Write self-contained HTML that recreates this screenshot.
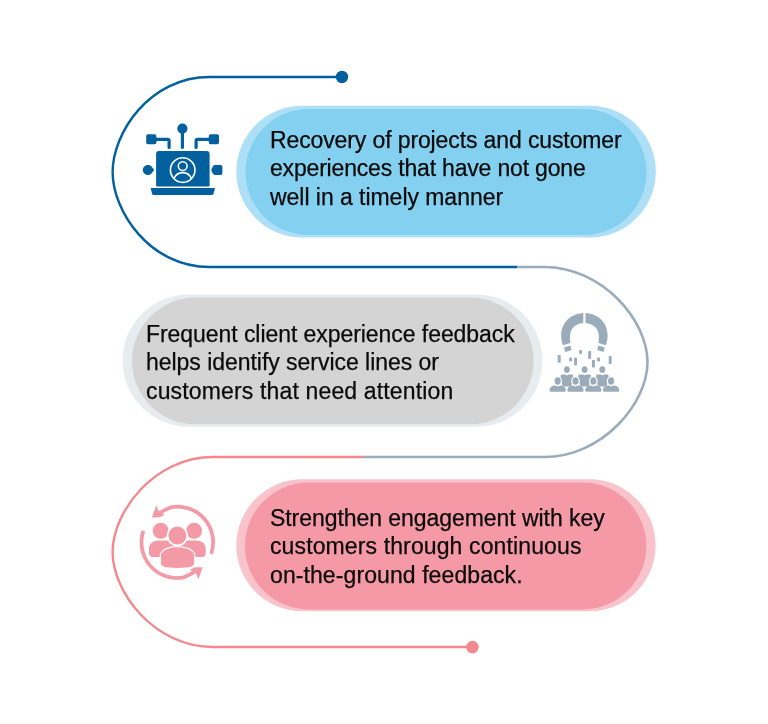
<!DOCTYPE html>
<html lang="en">
<head>
<meta charset="utf-8">
<title>Client experience feedback</title>
<style>
html,body{margin:0;padding:0;background:#fff;}
body{width:768px;height:724px;position:relative;overflow:hidden;font-family:"Liberation Sans",sans-serif;}
#art{position:absolute;left:0;top:0;width:768px;height:724px;display:block;}
.t{position:absolute;will-change:transform;white-space:nowrap;font-size:23px;line-height:28px;height:28px;color:#0a0a0a;-webkit-text-stroke:0.25px #0a0a0a;margin:0;}
</style>
</head>
<body>
<svg id="art" width="768" height="724" viewBox="0 0 768 724">
  <!-- connector path -->
  <g fill="none" stroke-width="2.4">
    <path d="M342 77 H209.5 C149.5 77 112.6 133 112.6 172 C112.6 211 149.5 267 209.5 267 H517" stroke="#02609f"/>
    <path d="M517 267 H544 C602 267 647.5 320 647.5 362 C647.5 404 602 457 544 457 H364" stroke="#9aacbc" stroke-width="2.6"/>
    <path d="M364 457 H213 C154 457 112.6 512 112.6 552 C112.6 592 154 647 213 647 H472.4" stroke="#f1898d"/>
  </g>
  <circle cx="342" cy="77" r="6.2" fill="#02609f"/>
  <circle cx="472.4" cy="647.1" r="6.3" fill="#f1898d"/>

  <!-- pills -->
  <rect x="236.3" y="105.7" width="419.5" height="131.9" rx="65.95" fill="#ade0f6"/>
  <rect x="245.5" y="109.0" width="401.0" height="126.1" rx="63.05" fill="#84d0f0"/>

  <rect x="122.5" y="294.5" width="420.0" height="132.2" rx="66.10" fill="#e7ecee"/>
  <rect x="132.0" y="297.6" width="401.6" height="126.6" rx="63.30" fill="#d4d4d4"/>

  <rect x="236.3" y="479.3" width="419.3" height="132.0" rx="66.00" fill="#f8c3cb"/>
  <rect x="245.0" y="482.6" width="401.3" height="126.8" rx="63.40" fill="#f499a5"/>
  <!-- icon 1: laptop / network -->
  <g fill="#02609f" stroke="none">
    <circle cx="182.4" cy="128.6" r="5.1"/>
    <rect x="180.8" y="130" width="3.2" height="18.9" rx="1.4"/>
    <rect x="146.2" y="134.2" width="10.2" height="10" rx="1.8"/>
    <rect x="208.8" y="134.2" width="10.2" height="10" rx="1.8"/>
    <path d="M155 139.3 H167.6 Q169.1 139.3 169.1 140.8 V147.5" fill="none" stroke="#02609f" stroke-width="3.2" stroke-linecap="round"/>
    <path d="M210 139.3 H197.6 Q196.1 139.3 196.1 140.8 V147.5" fill="none" stroke="#02609f" stroke-width="3.2" stroke-linecap="round"/>
    <path d="M158.9 151 H206.7 Q209.6 151 209.6 153.9 V185.4 Q209.6 186.5 208.5 186.5 H157.2 Q156.1 186.5 156.1 185.4 V153.9 Q156.1 151 158.9 151 Z"/>
    <path d="M150.6 188.1 H215 L213.6 193.6 Q213.2 195.1 211.6 195.1 H154 Q152.4 195.1 152 193.6 Z"/>
    <path d="M148 165 C150.4 165 151.4 166.1 154.1 169.9 C151.4 173.9 150.4 175 148 175 C145.2 175 142.8 172.8 142.8 170 C142.8 167.2 145.2 165 148 165 Z"/>
    <path d="M215 165 H220.6 Q222.4 165 222.4 166.8 V173.2 Q222.4 175 220.6 175 H215 Q214 175 213.4 174.2 L211.6 171.2 Q211 170 211.6 168.8 L213.4 165.8 Q214 165 215 165 Z"/>
    <g fill="none" stroke="#fff" stroke-width="1.6">
      <circle cx="182.7" cy="170.1" r="12.3"/>
      <circle cx="182.7" cy="166.1" r="4.4"/>
      <path d="M173.9 178.6 C175.6 174.6 178.8 172.6 182.7 172.6 C186.6 172.6 189.8 174.6 191.5 178.6"/>
    </g>
  </g>

  <!-- icon 2: magnet / crowd -->
  <g fill="#9aabba" stroke="none">
    <path d="M583.3 313 V323 C575.5 323.6 570 328.6 570 336 C570 338.6 570.1 341 570.4 343 L562.9 345.2 C561.8 342 561.2 339 561.2 335.4 C561.2 323 570.6 313.6 583.3 313 Z"/>
    <path d="M585.5 313 V323 C593.3 323.6 598.8 328.6 598.8 336 C598.8 338.6 598.7 341 598.4 343 L605.9 345.2 C607 342 607.6 339 607.6 335.4 C607.6 323 598.2 313.6 585.5 313 Z"/>
    <path d="M564 347.4 L570.4 345.5 L571.6 350 L565.3 352 Z"/>
    <path d="M604.8 347.4 L598.4 345.5 L597.2 350 L603.5 352 Z"/>
    <rect x="579.2" y="350" width="2.8" height="4.1" rx="0.8"/>
    <rect x="588.2" y="351" width="2.9" height="7.9" rx="0.8"/>
    <rect x="557.7" y="355" width="3" height="7.8" rx="0.8"/>
    <rect x="569.2" y="357.5" width="2.8" height="4" rx="0.8"/>
    <rect x="574.1" y="357.5" width="2.9" height="8" rx="0.8"/>
    <rect x="591.9" y="360" width="3" height="7.6" rx="0.8"/>
    <rect x="597.1" y="357.5" width="2.9" height="4" rx="0.8"/>
    <rect x="608.7" y="356.1" width="2.9" height="8" rx="0.8"/>
    <!-- back row -->
    <g id="bk">
      <ellipse cx="566.9" cy="369.6" rx="2.9" ry="3.4"/>
      <path d="M560.4 376.2 Q560.4 374.6 562 374.6 H565.3 L566.9 375.6 L568.5 374.6 H571.8 Q573.4 374.6 573.4 376.2 C573.4 380 572.4 383.6 570.6 386.4 H563.2 C561.4 383.6 560.4 380 560.4 376.2 Z"/>
    </g>
    <use href="#bk" x="17.7"/>
    <use href="#bk" x="35.4"/>
    <!-- front row -->
    <g id="fr">
      <ellipse cx="557.7" cy="381" rx="4.4" ry="5.1" fill="#fff"/>
      <ellipse cx="557.7" cy="381" rx="3.1" ry="3.7"/>
      <path d="M549.6 390.4 C549.6 387.2 552 385.6 555.2 385.6 Q557.7 387.2 560.2 385.6 C563.4 385.6 565.8 387.2 565.8 390.4 Q565.8 391.8 564.6 391.8 H550.8 Q549.6 391.8 549.6 390.4 Z"/>
    </g>
    <use href="#fr" x="17.8"/>
    <use href="#fr" x="35.6"/>
    <use href="#fr" x="53.4"/>
  </g>

  <!-- icon 3: people / cycle -->
  <g fill="#f49aa6" stroke="none">
    <g id="cyc">
      <path d="M211.2 553.8 A35.6 35.6 0 0 0 171.1 507.2 Q165 509.4 158 514.2" fill="none" stroke="#f49aa6" stroke-width="3.7"/>
      <path d="M151.9 517.4 L156.3 505.2 L158.2 510.6 L164.6 514.9 L159.6 517.3 Z"/>
    </g>
    <use href="#cyc" transform="rotate(180 177.3 542.3)"/>
    <!-- back people -->
    <circle cx="160.7" cy="530.8" r="8"/>
    <circle cx="194.1" cy="530.8" r="8"/>
    <path d="M149 553.5 V549 C149 543.6 153 540.6 159 540.6 H166 C170 540.6 173 542.6 175 545 V557 H152.5 C150.4 557 149 555.6 149 553.5 Z"/>
    <path d="M205.700 553.5 V549 C205.700 543.6 201.700 540.6 195.700 540.6 H188.700 C184.700 540.6 181.700 542.6 179.700 545 V557 H202.2 C204.300 557 205.700 555.600 205.700 553.5 Z"/>
    <!-- front person -->
    <circle cx="177.4" cy="535.6" r="9" stroke="#fff" stroke-width="3.4" paint-order="stroke"/>
    <path d="M161 563.5 V554 C163.5 549.6 169.6 547.2 177.5 547.2 C185.4 547.2 191.600 549.6 194.100 554 V563.5 C194.100 566 191 567.9 177.5 567.9 C164 567.9 161 566 161 563.5 Z" stroke="#fff" stroke-width="2.4" paint-order="stroke"/>
  </g>
</svg>

<p class="t" style="left:270.0px;top:126px;letter-spacing:-0.115px;">Recovery of projects and customer</p>
<p class="t" style="left:270.0px;top:154px;letter-spacing:-0.182px;">experiences that have not gone</p>
<p class="t" style="left:270.0px;top:183px;letter-spacing:-0.040px;">well in a timely manner</p>

<p class="t" style="left:146.2px;top:320px;letter-spacing:-0.060px;">Frequent client experience feedback</p>
<p class="t" style="left:146.2px;top:348px;letter-spacing:-0.036px;">helps identify service lines or</p>
<p class="t" style="left:146.2px;top:377px;letter-spacing:0.151px;">customers that need attention</p>

<p class="t" style="left:269.6px;top:504px;letter-spacing:-0.056px;">Strengthen engagement with key</p>
<p class="t" style="left:269.6px;top:532px;letter-spacing:0.121px;">customers through continuous</p>
<p class="t" style="left:269.6px;top:561px;letter-spacing:0.090px;">on-the-ground feedback.</p>

</body>
</html>
